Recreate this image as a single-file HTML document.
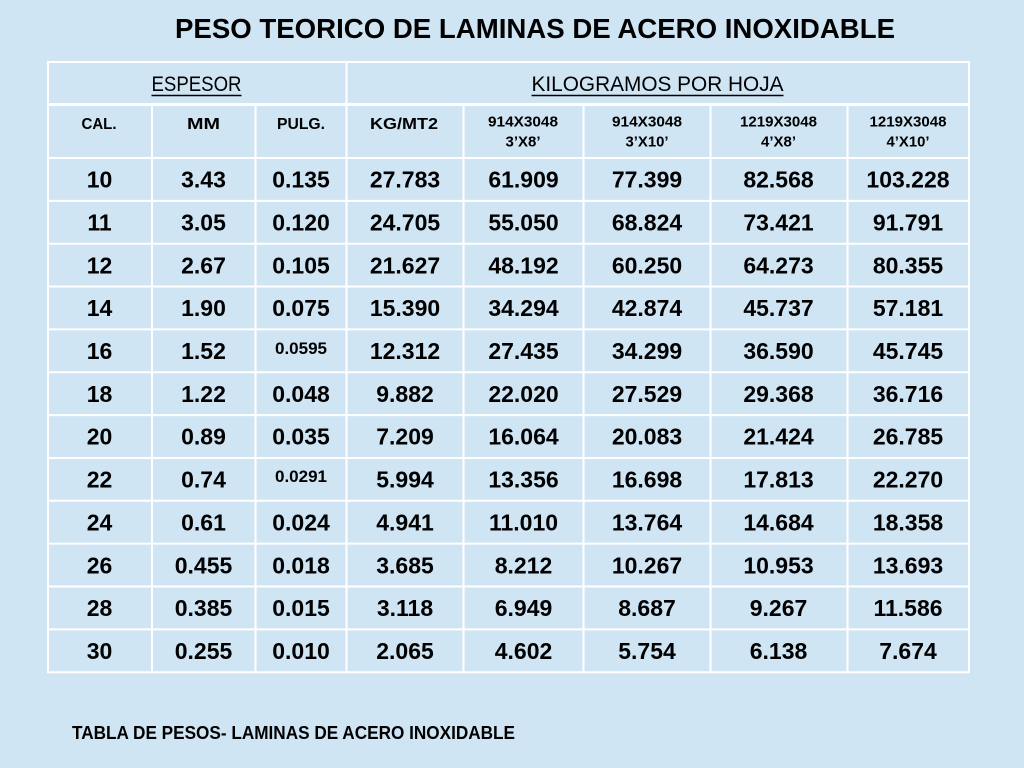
<!DOCTYPE html>
<html><head><meta charset="utf-8"><style>
html,body{margin:0;padding:0;background:#cfe5f4;}
svg{display:block;}
</style></head><body>
<svg width="1024" height="768" viewBox="0 0 1024 768" xmlns="http://www.w3.org/2000/svg" font-family="'Liberation Sans', Arial, sans-serif">
<rect width="1024" height="768" fill="#cfe5f4"/>
<text x="175" y="38" font-size="28" font-weight="bold" textLength="720" lengthAdjust="spacingAndGlyphs" fill="#000">PESO TEORICO DE LAMINAS DE ACERO INOXIDABLE</text>

<g stroke="#ffffff" stroke-width="2" fill="none">
<line x1="47" y1="62" x2="970" y2="62"/>
<line x1="47" y1="104.5" x2="970" y2="104.5" stroke-width="3"/>
<line x1="47" y1="158" x2="970" y2="158"/>
<line x1="47" y1="200.85" x2="970" y2="200.85"/>
<line x1="47" y1="243.7" x2="970" y2="243.7"/>
<line x1="47" y1="286.55" x2="970" y2="286.55"/>
<line x1="47" y1="329.4" x2="970" y2="329.4"/>
<line x1="47" y1="372.25" x2="970" y2="372.25"/>
<line x1="47" y1="415.1" x2="970" y2="415.1"/>
<line x1="47" y1="457.95" x2="970" y2="457.95"/>
<line x1="47" y1="500.8" x2="970" y2="500.8"/>
<line x1="47" y1="543.65" x2="970" y2="543.65"/>
<line x1="47" y1="586.5" x2="970" y2="586.5"/>
<line x1="47" y1="629.35" x2="970" y2="629.35"/>
<line x1="47" y1="672.3" x2="970" y2="672.3"/>
<line x1="48" y1="61" x2="48" y2="673"/>
<line x1="346.5" y1="61" x2="346.5" y2="673"/>
<line x1="969" y1="61" x2="969" y2="673"/>
<line x1="152" y1="104" x2="152" y2="673"/>
<line x1="255.5" y1="104" x2="255.5" y2="673"/>
<line x1="463.5" y1="104" x2="463.5" y2="673"/>
<line x1="583.5" y1="104" x2="583.5" y2="673"/>
<line x1="710.5" y1="104" x2="710.5" y2="673"/>
<line x1="847.5" y1="104" x2="847.5" y2="673"/>
</g>

<!-- header row 1 -->
<text x="151.5" y="91" font-size="21" textLength="90" lengthAdjust="spacingAndGlyphs" fill="#000">ESPESOR</text>
<line x1="151.5" y1="95.5" x2="241.5" y2="95.5" stroke="#000" stroke-width="1.5"/>
<text x="531.5" y="91" font-size="21" textLength="252" lengthAdjust="spacingAndGlyphs" fill="#000">KILOGRAMOS POR HOJA</text>
<line x1="531.5" y1="95.5" x2="783.5" y2="95.5" stroke="#000" stroke-width="1.5"/>

<!-- header row 2 -->
<g font-weight="bold" fill="#000">
<text x="81.5" y="129" font-size="16" textLength="35" lengthAdjust="spacingAndGlyphs">CAL.</text>
<text x="187" y="129" font-size="16" textLength="33" lengthAdjust="spacingAndGlyphs">MM</text>
<text x="277" y="129" font-size="16" textLength="48" lengthAdjust="spacingAndGlyphs">PULG.</text>
<text x="370" y="129" font-size="16" textLength="68" lengthAdjust="spacingAndGlyphs">KG/MT2</text>
<text x="488" y="126.7" font-size="15" textLength="70" lengthAdjust="spacingAndGlyphs">914X3048</text>
<text x="505.5" y="146.7" font-size="15" textLength="35" lengthAdjust="spacingAndGlyphs">3’X8’</text>
<text x="612" y="126.7" font-size="15" textLength="70" lengthAdjust="spacingAndGlyphs">914X3048</text>
<text x="625.5" y="146.7" font-size="15" textLength="43" lengthAdjust="spacingAndGlyphs">3’X10’</text>
<text x="740" y="126.7" font-size="15" textLength="77" lengthAdjust="spacingAndGlyphs">1219X3048</text>
<text x="761" y="146.7" font-size="15" textLength="35" lengthAdjust="spacingAndGlyphs">4’X8’</text>
<text x="869.5" y="126.7" font-size="15" textLength="77" lengthAdjust="spacingAndGlyphs">1219X3048</text>
<text x="886.5" y="146.7" font-size="15" textLength="43" lengthAdjust="spacingAndGlyphs">4’X10’</text>
</g>

<!-- data -->
<g font-weight="bold" font-size="23" fill="#000" text-anchor="middle">
<text y="187.6"><tspan x="99.5">10</tspan><tspan x="203.5">3.43</tspan><tspan x="301">0.135</tspan><tspan x="405">27.783</tspan><tspan x="523.5">61.909</tspan><tspan x="647">77.399</tspan><tspan x="778.5">82.568</tspan><tspan x="908">103.228</tspan></text>
<text y="230.45"><tspan x="99.5">11</tspan><tspan x="203.5">3.05</tspan><tspan x="301">0.120</tspan><tspan x="405">24.705</tspan><tspan x="523.5">55.050</tspan><tspan x="647">68.824</tspan><tspan x="778.5">73.421</tspan><tspan x="908">91.791</tspan></text>
<text y="273.3"><tspan x="99.5">12</tspan><tspan x="203.5">2.67</tspan><tspan x="301">0.105</tspan><tspan x="405">21.627</tspan><tspan x="523.5">48.192</tspan><tspan x="647">60.250</tspan><tspan x="778.5">64.273</tspan><tspan x="908">80.355</tspan></text>
<text y="316.15"><tspan x="99.5">14</tspan><tspan x="203.5">1.90</tspan><tspan x="301">0.075</tspan><tspan x="405">15.390</tspan><tspan x="523.5">34.294</tspan><tspan x="647">42.874</tspan><tspan x="778.5">45.737</tspan><tspan x="908">57.181</tspan></text>
<text y="359"><tspan x="99.5">16</tspan><tspan x="203.5">1.52</tspan><tspan x="405">12.312</tspan><tspan x="523.5">27.435</tspan><tspan x="647">34.299</tspan><tspan x="778.5">36.590</tspan><tspan x="908">45.745</tspan></text>
<text y="401.85"><tspan x="99.5">18</tspan><tspan x="203.5">1.22</tspan><tspan x="301">0.048</tspan><tspan x="405">9.882</tspan><tspan x="523.5">22.020</tspan><tspan x="647">27.529</tspan><tspan x="778.5">29.368</tspan><tspan x="908">36.716</tspan></text>
<text y="444.7"><tspan x="99.5">20</tspan><tspan x="203.5">0.89</tspan><tspan x="301">0.035</tspan><tspan x="405">7.209</tspan><tspan x="523.5">16.064</tspan><tspan x="647">20.083</tspan><tspan x="778.5">21.424</tspan><tspan x="908">26.785</tspan></text>
<text y="487.55"><tspan x="99.5">22</tspan><tspan x="203.5">0.74</tspan><tspan x="405">5.994</tspan><tspan x="523.5">13.356</tspan><tspan x="647">16.698</tspan><tspan x="778.5">17.813</tspan><tspan x="908">22.270</tspan></text>
<text y="530.4"><tspan x="99.5">24</tspan><tspan x="203.5">0.61</tspan><tspan x="301">0.024</tspan><tspan x="405">4.941</tspan><tspan x="523.5">11.010</tspan><tspan x="647">13.764</tspan><tspan x="778.5">14.684</tspan><tspan x="908">18.358</tspan></text>
<text y="573.25"><tspan x="99.5">26</tspan><tspan x="203.5">0.455</tspan><tspan x="301">0.018</tspan><tspan x="405">3.685</tspan><tspan x="523.5">8.212</tspan><tspan x="647">10.267</tspan><tspan x="778.5">10.953</tspan><tspan x="908">13.693</tspan></text>
<text y="616.1"><tspan x="99.5">28</tspan><tspan x="203.5">0.385</tspan><tspan x="301">0.015</tspan><tspan x="405">3.118</tspan><tspan x="523.5">6.949</tspan><tspan x="647">8.687</tspan><tspan x="778.5">9.267</tspan><tspan x="908">11.586</tspan></text>
<text y="658.95"><tspan x="99.5">30</tspan><tspan x="203.5">0.255</tspan><tspan x="301">0.010</tspan><tspan x="405">2.065</tspan><tspan x="523.5">4.602</tspan><tspan x="647">5.754</tspan><tspan x="778.5">6.138</tspan><tspan x="908">7.674</tspan></text>
</g>
<g font-weight="bold" font-size="17" fill="#000" text-anchor="middle">
<text x="301" y="354">0.0595</text>
<text x="301" y="482">0.0291</text>
</g>

<text x="72" y="739" font-size="18" font-weight="bold" textLength="443" lengthAdjust="spacingAndGlyphs" fill="#000">TABLA DE PESOS- LAMINAS DE ACERO INOXIDABLE</text>
</svg>
</body></html>
